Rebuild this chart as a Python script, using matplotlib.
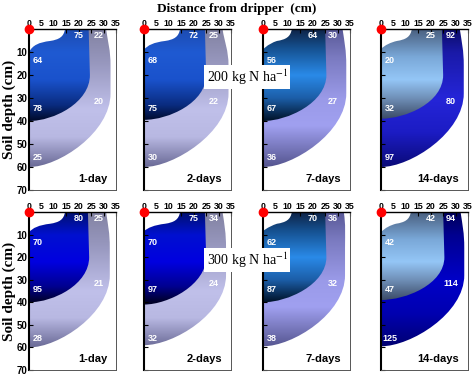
import matplotlib
matplotlib.use('Agg')
import numpy as np
import matplotlib.pyplot as plt
from matplotlib.path import Path
from matplotlib.patches import PathPatch
from matplotlib.colors import LinearSegmentedColormap

plt.rcParams['mathtext.fontset'] = 'stix'

days = ['1-day', '2-days', '7-days', '14-days']
rates = ['200', '300']

# concentrations written on the zones (top-inner, top-outer, left-upper, left-lower, right-outer, bottom-outer)
vals_200 = [[75, 22, 64, 78, 20, 25],
            [72, 25, 68, 75, 22, 30],
            [64, 30, 56, 67, 27, 36],
            [25, 92, 20, 32, 80, 97]]
vals_300 = [[80, 25, 70, 95, 21, 28],
            [75, 34, 70, 97, 24, 32],
            [70, 36, 62, 87, 32, 38],
            [42, 94, 42, 47, 114, 125]]

# zone boundaries (cm): dry notch, inner front, outer front
notch_x = [[14.5, 14.5, 11.6, 12.4], [14.5, 14.5, 11.6, 12.0]]
notch_d = [[10.0, 9.0, 9.0, 8.7], [9.0, 8.5, 8.5, 9.0]]
inner_x = [[24.0, 24.5, 25.0, 24.5], [23.7, 24.5, 25.0, 25.0]]
inner_d = [[40.0, 39.5, 40.0, 39.0], [40.0, 41.0, 40.0, 39.0]]
outer_x = [[31.0, 31.6, 32.0, 31.7], [31.0, 31.6, 32.5, 32.0]]
outer_m = [[32.8, 34.0, 33.5, 33.3], [32.5, 33.0, 33.0, 33.5]]
outer_d = [[60.0, 60.0, 60.0, 60.0], [60.0, 59.0, 59.5, 59.5]]

gray_outer = [(0, '#8383a3'), (15, '#9898bf'), (35, '#c0c0ea'), (47, '#b8b8e2'), (60, '#6a6a96')]
lav_outer = [(0, '#5a5a98'), (12, '#7a7ac0'), (30, '#9a9ae8'), (42, '#a0a0f0'), (60, '#55558f')]
sky_inner = [(0, '#4a6080'), (12, '#7aa8d8'), (22, '#94c6f6'), (30, '#7090b8'), (39, '#3c4c68')]
mid_inner = [(0, '#0e2448'), (8, '#15508f'), (20, '#2a8ae8'), (30, '#1c5ea8'), (40, '#001228')]
blue_inner = [(0, '#1d4cb2'), (10, '#1f5ad2'), (22, '#1a52cc'), (33, '#0a2c80'), (40, '#000a2a')]
deep_inner = [(0, '#001070'), (10, '#0010d0'), (22, '#0000e0'), (33, '#000090'), (40, '#000028')]

inner_cols = [[blue_inner, blue_inner, mid_inner, sky_inner],
              [deep_inner, deep_inner, mid_inner, sky_inner]]
outer_cols = [[gray_outer, gray_outer, lav_outer,
               [(0, '#0c0c6a'), (10, '#1a1aa8'), (30, '#2525d8'), (45, '#1c1cc4'), (60, '#0a0a78')]],
              [gray_outer, gray_outer, lav_outer,
               [(0, '#00005a'), (10, '#000090'), (30, '#0000c8'), (45, '#0000b0'), (60, '#000070')]]]

label_pos = [(20, 3), (28, 3), (3.5, 13.5), (3.5, 34.5), (28, 31.5), (3.5, 56)]

M, L, C, Z = Path.MOVETO, Path.LINETO, Path.CURVE4, Path.CLOSEPOLY


def gradient_fill(ax, path, stops):
    patch = PathPatch(path, facecolor='none', edgecolor='none')
    ax.add_patch(patch)
    dmax = stops[-1][0]
    cmap = LinearSegmentedColormap.from_list('g', [(d / dmax, col) for d, col in stops])
    depth = np.linspace(0, 70, 300).reshape(-1, 1)
    im = ax.imshow(depth, cmap=cmap, vmin=0, vmax=dmax, extent=(0, 35, 70, 0),
                   aspect='auto', origin='upper', interpolation='bilinear', zorder=1)
    im.set_clip_path(patch)


def outer_path(x0, xm, d):
    verts = [(0, 0), (x0, 0), (x0 + 0.8, 6), (xm, 9), (xm, 16), (xm, 28),
             (xm, 45), (12, d), (0, d), (0, 0)]
    codes = [M, L, C, C, C, L, C, C, C, Z]
    return Path(verts, codes)


def inner_path(ix, d):
    verts = [(0, 0), (ix, 0), (ix + 0.5, 20), (ix + 0.5, 32), (10, d), (0, d), (0, 0)]
    codes = [M, L, L, C, C, C, Z]
    return Path(verts, codes)


def notch_path(nx, nd):
    verts = [(0, -1), (nx, -1), (nx, 0), (nx - 0.5, 3.5), (nx - 2.5, 4.6), (nx - 6, 5.2),
             (4, 5.8), (1.5, 7), (0, nd), (0, -1)]
    codes = [M, L, L, C, C, C, C, C, C, Z]
    return Path(verts, codes)


fig = plt.figure(figsize=(4.74, 3.77), dpi=100)
W, H = 474.0, 377.0
lefts = [29, 144, 263, 381]
rows = [(29, 190), (212, 370)]

for r, (top, bot) in enumerate(rows):
    vals = vals_200 if r == 0 else vals_300
    for c in range(4):
        ax = fig.add_axes([lefts[c] / W, 1 - bot / H, 87 / W, (bot - top) / H])
        ax.set_xlim(0, 35)
        ax.set_ylim(70, 0)
        gradient_fill(ax, outer_path(outer_x[r][c], outer_m[r][c], outer_d[r][c]), outer_cols[r][c])
        gradient_fill(ax, inner_path(inner_x[r][c], inner_d[r][c]), inner_cols[r][c])
        ax.add_patch(PathPatch(notch_path(notch_x[r][c], notch_d[r][c]),
                               facecolor='white', edgecolor='none', zorder=2))
        for (x, d), v in zip(label_pos, vals[c]):
            ax.text(x, d, str(v), color='white', fontsize=6.5, fontweight='bold',
                    family='Liberation Sans', ha='center', va='center', zorder=4)
        ax.text(31.5, 65, days[c], fontsize=8, fontweight='bold', family='Liberation Sans',
                ha='right', va='center', zorder=4)
        ax.plot(0, 0, 'o', color='red', ms=6, clip_on=False, zorder=6)

        ax.xaxis.tick_top()
        ax.set_xticks(range(0, 36, 5))
        ax.set_yticks(range(10, 71, 10))
        ax.tick_params(axis='x', direction='in', length=3, width=0.8, pad=1, labelsize=6.3)
        ax.tick_params(axis='y', direction='in', length=3, width=0.8, pad=1, labelsize=7,
                       labelleft=(c == 0))
        for lab in ax.get_xticklabels() + ax.get_yticklabels():
            lab.set_fontweight('bold')
            lab.set_family(['Liberation Sans Narrow', 'Liberation Sans'])
        ax.spines['left'].set_linewidth(1.5)
        ax.spines['top'].set_linewidth(1.0)
        for s in ['right', 'bottom']:
            ax.spines[s].set_linewidth(0.7)
            ax.spines[s].set_color('#555555')

    fig.text(0.02, 1 - (top + bot) / 2 / H, 'Soil depth (cm)', rotation=90, ha='center',
             va='center', fontsize=11, fontweight='bold', family='Liberation Serif')
    fig.text(247 / W, 1 - (top + 48) / H, rates[r] + r' kg N ha$^{-1}$', ha='center', va='center',
             fontsize=10, family='Liberation Serif',
             bbox=dict(facecolor='white', edgecolor='none', pad=1.5), zorder=10)

fig.text(0.5, 1 - 9 / H, 'Distance from dripper  (cm)', ha='center', va='center',
         fontsize=9.5, fontweight='bold', family='Liberation Serif')

fig.savefig('out.png', dpi=100)
